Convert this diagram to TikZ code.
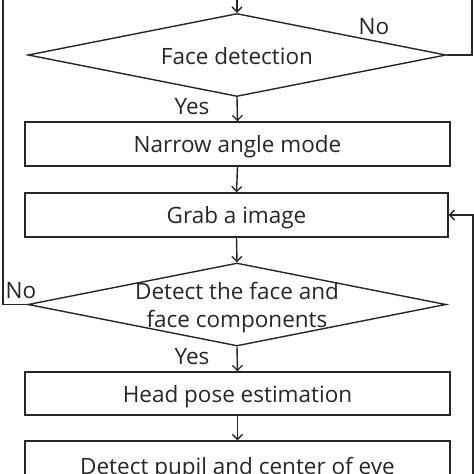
\documentclass[tikz,border=0pt]{standalone}
\usepackage{fontspec}
\setmainfont{Open Sans}
\usetikzlibrary{shapes.geometric,arrows.meta}
\begin{document}
\begin{tikzpicture}[x=1pt,y=-1pt,
  line width=1.4pt, draw=black!85,
  every node/.style={text=black!85, font=\fontsize{22.5}{28}\selectfont},
  stepbox/.style={draw, rectangle, minimum width=425pt, minimum height=44pt, inner sep=0pt, text depth=0pt},
  dia/.style={draw, diamond, minimum width=418pt, minimum height=83pt, inner sep=0pt},
  arr/.style={-{Straight Barb[length=5pt,width=10pt,line width=1.3pt]}}]
\useasboundingbox (0,0) rectangle (474,474);
\coordinate (top) at (237,0);
\node[dia] (d1) at (237,55) {};
\node[text depth=0pt] (t1) at (237,56) {Face detection};
\node[stepbox] (b1) at (237.5,144) {Narrow angle mode};
\node[stepbox, minimum width=423pt] (b2) at (236.5,215) {Grab a image};
\node[dia] (d2) at (237,304.5) {};
\node[align=center] (t2) at (237,307.5) {Detect the face and\\face components};
\node[stepbox, minimum height=43pt] (b3) at (237.5,393.5) {Head pose estimation};
\node[stepbox, minimum height=50pt] (b4) at (237.5,466) {Detect pupil and center of eye};
\coordinate (r1) at (472,55);
\coordinate (r1t) at (472,0);
\coordinate (l2) at (3,304.5);
\coordinate (l2t) at (3,0);
\coordinate (r2b) at (473,474);
\coordinate (r2) at (473,215);
\draw[arr] (top) -- (d1.north);
\draw[arr] (d1.south) -- (b1.north);
\draw[arr] (b1.south) -- (b2.north);
\draw[arr] (b2.south) -- (d2.north);
\draw[arr] (d2.south) -- (b3.north);
\draw[arr] (b3.south) -- (b4.north);
\draw (d1.east) -- (r1) -- (r1t);
\draw (d2.west) -- (l2) -- (l2t);
\draw[arr] (r2b) -- (r2) -- (b2.east);
\node (no1) at (374,27) {No};
\node (yes1) at (192,107) {Yes};
\node (no2) at (21,291) {No};
\node (yes2) at (192,357) {Yes};
\end{tikzpicture}
\end{document}
